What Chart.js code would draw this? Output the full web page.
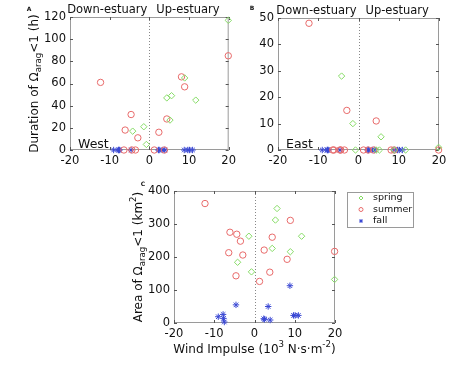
<!DOCTYPE html>
<html>
<head>
<meta charset="utf-8">
<script src="https://cdn.jsdelivr.net/npm/chart.js@4.4.1/dist/chart.umd.min.js"></script>
<style>
  body { margin: 0; background: #fff; }
  #wrap { position: relative; width: 474px; height: 365px; overflow: hidden; }
  canvas { position: absolute; }
</style>
</head>
<body>
<div id="wrap">
  <canvas id="westChart" style="left:0;top:0;width:240px;height:175px"></canvas>
  <canvas id="eastChart" style="left:240px;top:0;width:234px;height:175px"></canvas>
  <canvas id="areaChart" style="left:100px;top:172px;width:374px;height:193px"></canvas>
</div>
<script>
// wind impulse (10^3 N s m^-2) for each event, per season
const springImpulse = [-4.2, -1.4, -0.75, 4.4, 5.2, 5.6, 8.9, 11.7, 19.9];
const summerImpulse = [-12.3, -6.4, -6.1, -4.6, -4.4, -3.5, -2.9, 1.25, 2.4, 3.8, 4.4, 8.1, 8.9, 19.9];
const fallImpulse   = [-9.0, -7.8, -7.7, -7.5, -4.6, 2.3, 2.5, 3.4, 3.9, 8.8, 9.7, 10.1, 10.9];

// A: duration (h), West
const springWest = [17, 21, 5, 47, 27, 49, 65, 45, 117];
const summerWest = [61, 0, 18, 32, 0, 0, 11, 0, 16, 0, 28, 66, 57, 85];
const fallWest   = [0, 0, 0, 0, 0, 0, 0, 0, 0, 0, 0, 0, 0];

// B: duration (h), East
const springEast = [28, 10, 0, 0, 0, 5, 0, 0, 1];
const summerEast = [48, 0, 0, 0, 0, 0, 15, 0, 0, 0, 11, 0, 0, 0];
const fallEast   = [0, 0, 0, 0, 0, 0, 0, 0, 0, 0, 0, 0, 0];

// C: area (km^2)
const springArea = [184, 263, 155, 226, 312, 347, 216, 263, 132];
const summerArea = [362, 213, 275, 143, 269, 248, 206, 126, 221, 154, 260, 193, 311, 217];
const fallArea   = [19, 26, 14, 3, 55, 13, 11, 50, 9, 113, 23, 23, 23];

const seasonLabels = ['spring', 'summer', 'fall'];
const windTicks = [-20, -10, 0, 10, 20];
const westTicks = [0, 20, 40, 60, 80, 100, 120];
const eastTicks = [0, 10, 20, 30, 40, 50];
const areaTicks = [0, 100, 200, 300, 400];

const FONT = '"DejaVu Sans", sans-serif';
const seasonStyle = [
    { color: '#86dc66', style: 'rectRot', r: 3.2 },
    { color: '#e86a6a', style: 'circle', r: 3.2 },
    { color: '#3a48d4', style: 'star', r: 3.2 }
];

const pairs = (xs, ys) => xs.map((x, i) => ({ x: x, y: ys[i] }));

// draws text pieces with sub/superscripts, centred on (0,0) of the current transform
const drawRich = (ctx, segs, size) => {
    const parts = segs.map(s => {
        const fs = s.s ? size * 0.72 : size;
        ctx.font = fs + 'px ' + FONT;
        return { t: s.t, fs: fs, w: ctx.measureText(s.t).width, dy: s.s === 1 ? size * 0.3 : (s.s === -1 ? -size * 0.4 : 0) };
    });
    let x = -parts.reduce((a, p) => a + p.w, 0) / 2;
    ctx.textAlign = 'left';
    ctx.textBaseline = 'middle';
    parts.forEach(p => {
        ctx.font = p.fs + 'px ' + FONT;
        ctx.fillText(p.t, x, p.dy);
        x += p.w;
    });
};

const panelDeco = {
    id: 'panelDeco',
    beforeDatasetsDraw(chart, args, o) {
        const { ctx, chartArea: a, scales } = chart;
        ctx.save();
        // dotted zero line
        const x0 = scales.x.getPixelForValue(0);
        ctx.strokeStyle = '#888';
        ctx.lineWidth = 1;
        ctx.setLineDash([1, 2]);
        ctx.beginPath();
        ctx.moveTo(Math.round(x0) + 0.5, a.top);
        ctx.lineTo(Math.round(x0) + 0.5, a.bottom);
        ctx.stroke();
        ctx.setLineDash([]);
        // box
        ctx.strokeStyle = '#9a9a9a';
        ctx.strokeRect(a.left + 0.5, a.top + 0.5, a.right - a.left - 1, a.bottom - a.top - 1);
        // inward ticks
        ctx.strokeStyle = '#555';
        ctx.beginPath();
        scales.x.ticks.forEach(t => {
            const px = Math.round(scales.x.getPixelForValue(t.value)) + 0.5;
            ctx.moveTo(px, a.bottom); ctx.lineTo(px, a.bottom - 3);
            ctx.moveTo(px, a.top); ctx.lineTo(px, a.top + 3);
        });
        scales.y.ticks.forEach(t => {
            const py = Math.round(scales.y.getPixelForValue(t.value)) + 0.5;
            ctx.moveTo(a.left, py); ctx.lineTo(a.left + 3, py);
            ctx.moveTo(a.right, py); ctx.lineTo(a.right - 3, py);
        });
        ctx.stroke();
        ctx.restore();
    },
    afterDraw(chart, args, o) {
        const { ctx, chartArea: a, scales } = chart;
        const x0 = scales.x.getPixelForValue(0);
        ctx.save();
        ctx.fillStyle = '#111';
        if (o.estuary) {
            ctx.font = '11.5px ' + FONT;
            ctx.textBaseline = 'alphabetic';
            ctx.textAlign = 'right';
            ctx.fillText('Down-estuary', x0 - 2, a.top - 4);
            ctx.textAlign = 'left';
            ctx.fillText('Up-estuary', x0 + 7, a.top - 4);
        }
        if (o.site) {
            ctx.font = '12.5px ' + FONT;
            ctx.textAlign = 'left';
            ctx.textBaseline = 'alphabetic';
            ctx.fillText(o.site, a.left + 8, a.bottom - 2);
        }
        if (o.letter) {
            ctx.font = 'bold 6px ' + FONT;
            ctx.textAlign = 'center';
            ctx.textBaseline = 'middle';
            ctx.fillText(o.letter[0], o.letter[1], o.letter[2]);
        }
        if (o.yLabel) {
            ctx.save();
            ctx.translate(o.yLabelX, (a.top + a.bottom) / 2);
            ctx.rotate(-Math.PI / 2);
            drawRich(ctx, o.yLabel, 12);
            ctx.restore();
        }
        if (o.xLabel) {
            ctx.save();
            ctx.translate((a.left + a.right) / 2, o.xLabelY);
            drawRich(ctx, o.xLabel, 12);
            ctx.restore();
        }
        if (o.legend) {
            const [lx, ly, lw, lh] = o.legend;
            ctx.strokeStyle = '#9a9a9a';
            ctx.lineWidth = 1;
            ctx.strokeRect(lx + 0.5, ly + 0.5, lw, lh);
            ctx.font = '9.5px ' + FONT;
            ctx.textAlign = 'left';
            ctx.textBaseline = 'middle';
            chart.data.datasets.forEach((ds, i) => {
                const cy = ly + 6 + i * 11.5;
                ctx.fillStyle = 'rgba(0,0,0,0)';
                ctx.strokeStyle = ds.borderColor;
                ctx.lineWidth = 1;
                Chart.helpers.drawPoint(ctx, { pointStyle: ds.pointStyle, radius: 2, borderWidth: 1 }, lx + 14, cy);
                ctx.fillStyle = '#111';
                ctx.fillText(ds.label, lx + 26, cy);
            });
        }
        ctx.restore();
    }
};

const makePanel = (id, ys, yTicks, yWidth, xHeight, padding, deco) => {
    const datasets = ys.map((arr, i) => ({
        label: seasonLabels[i],
        data: pairs([springImpulse, summerImpulse, fallImpulse][i], arr),
        pointStyle: seasonStyle[i].style,
        pointRadius: seasonStyle[i].r,
        borderColor: seasonStyle[i].color,
        backgroundColor: 'rgba(0,0,0,0)',
        pointBorderWidth: 1,
        clip: false
    }));
    new Chart(document.getElementById(id), {
        type: 'scatter',
        data: { datasets: datasets },
        options: {
            responsive: false,
            animation: false,
            layout: { padding: padding },
            plugins: {
                legend: { display: false },
                tooltip: { enabled: false },
                panelDeco: deco
            },
            events: [],
            scales: {
                x: {
                    type: 'linear',
                    min: -20, max: 20,
                    afterBuildTicks: s => { s.ticks = windTicks.map(v => ({ value: v })); },
                    afterFit: s => { s.height = xHeight; },
                    grid: { display: false, drawTicks: false },
                    border: { display: false },
                    ticks: { color: '#111', font: { family: FONT, size: 11.5 }, padding: 4, maxRotation: 0 }
                },
                y: {
                    type: 'linear',
                    min: yTicks[0], max: yTicks[yTicks.length - 1],
                    afterBuildTicks: s => { s.ticks = yTicks.map(v => ({ value: v })); },
                    afterFit: s => { s.width = yWidth; },
                    grid: { display: false, drawTicks: false },
                    border: { display: false },
                    ticks: { color: '#111', font: { family: FONT, size: 11.5 }, padding: 4 }
                }
            }
        },
        plugins: [panelDeco]
    });
};

const setSize = (id, w, h) => { const c = document.getElementById(id); c.width = w; c.height = h; };
setSize('westChart', 240, 175);
setSize('eastChart', 234, 175);
setSize('areaChart', 374, 193);

makePanel('westChart', [springWest, summerWest, fallWest], westTicks, 70, 25,
    { left: 0, right: 8, top: 17, bottom: 0 },
    { estuary: true, site: 'West', letter: ['A', 29, 9],
      yLabel: [{ t: 'Duration of Ω' }, { t: 'arag', s: 1 }, { t: '<1 (h)' }], yLabelX: 35 });

makePanel('eastChart', [springEast, summerEast, fallEast], eastTicks, 38, 25,
    { left: 0, right: 35, top: 18, bottom: 0 },
    { estuary: true, site: 'East', letter: ['B', 12, 8] });

makePanel('areaChart', [springArea, summerArea, fallArea], areaTicks, 74, 42,
    { left: 0, right: 139, top: 19, bottom: 0 },
    { letter: ['C', 43, 12],
      yLabel: [{ t: 'Area of Ω' }, { t: 'arag', s: 1 }, { t: '<1 (km' }, { t: '2', s: -1 }, { t: ')' }], yLabelX: 39,
      xLabel: [{ t: 'Wind Impulse (10' }, { t: '3', s: -1 }, { t: ' N·s·m' }, { t: '-2', s: -1 }, { t: ')' }], xLabelY: 178,
      legend: [247, 20, 66, 35] });
</script>
</body>
</html>
